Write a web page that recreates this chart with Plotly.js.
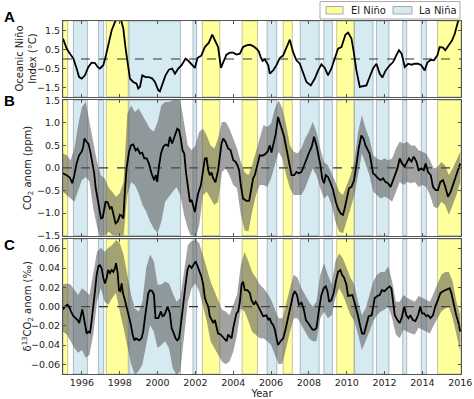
<!DOCTYPE html>
<html>
<head>
<meta charset="utf-8">
<script src="https://cdn.plot.ly/plotly-3.0.1.min.js"></script>
<style>html,body{margin:0;padding:0;background:#fff;}#chart{width:474px;height:399px;}</style>
</head>
<body>
<div id="chart"></div>
<script>
// ENSO periods (decimal year)
const elNinoStart = [1995.0, 1997.29, 2002.37, 2004.47, 2006.64, 2009.47, 2014.80];
const elNinoEnd   = [1995.25, 1998.45, 2003.29, 2005.28, 2007.12, 2010.38, 2016.04];
const laNinaStart = [1995.55, 1996.87, 1998.49, 2001.87, 2005.79, 2007.54, 2008.79, 2010.40, 2011.57, 2012.96, 2013.94];
const laNinaEnd   = [1996.29, 1997.15, 2001.21, 2002.06, 2006.30, 2008.54, 2009.24, 2011.39, 2012.23, 2013.17, 2014.21];
const legendLabels = ['El Niño', 'La Niña'];

// Panel A: Oceanic Nino Index
const oniYear = [1995.0,1995.2,1995.37,1995.55,1995.72,1995.85,1995.99,1996.16,1996.34,1996.51,1996.69,1996.83,1996.95,1997.13,1997.25,1997.39,1997.57,1997.75,1997.9,1998.0,1998.19,1998.31,1998.42,1998.54,1998.71,1998.89,1998.98,1999.07,1999.19,1999.37,1999.54,1999.72,1999.86,2000.04,2000.12,2000.25,2000.42,2000.6,2000.77,2000.92,2001.09,2001.27,2001.48,2001.65,2001.83,2001.97,2002.11,2002.32,2002.5,2002.71,2002.89,2003.03,2003.2,2003.35,2003.47,2003.64,2003.82,2004.0,2004.17,2004.35,2004.52,2004.7,2004.88,2005.05,2005.23,2005.35,2005.45,2005.55,2005.67,2005.85,2005.93,2006.11,2006.28,2006.46,2006.64,2006.81,2006.99,2007.16,2007.34,2007.52,2007.69,2007.87,2008.1,2008.31,2008.49,2008.66,2008.84,2009.01,2009.19,2009.37,2009.54,2009.72,2009.93,2010.07,2010.25,2010.37,2010.51,2010.69,2010.86,2011.04,2011.21,2011.39,2011.57,2011.74,2011.88,2012.06,2012.27,2012.45,2012.62,2012.76,2012.9,2013.07,2013.25,2013.42,2013.6,2013.77,2013.94,2014.12,2014.26,2014.44,2014.61,2014.79,2014.91,2015.09,2015.21,2015.39,2015.57,2015.71,2015.88,2015.97];
const oniValue = [1.07,0.54,0.28,0.02,-0.5,-0.95,-1.03,-0.86,-0.42,-0.19,-0.21,-0.42,-0.5,-0.33,0.1,0.72,1.5,1.95,2.3,2.3,1.6,0.54,-0.33,-1.03,-1.21,-1.3,-1.56,-1.47,-0.86,-0.95,-0.95,-1.03,-1.21,-1.65,-1.7,-1.3,-0.86,-0.56,-0.5,-0.77,-0.5,-0.33,0.02,-0.12,-0.3,-0.47,0.05,0.19,0.63,0.86,1.28,0.98,0.63,-0.47,-0.16,0.23,0.33,0.33,0.23,0.28,0.63,0.72,0.75,0.68,0.54,0.4,0.1,-0.1,-0.02,-0.33,-0.77,-0.6,-0.33,0.05,0.19,0.63,1.02,0.37,-0.07,-0.25,-0.68,-1.21,-1.39,-1.03,-0.6,-0.28,-0.47,-0.86,-0.5,0.1,0.54,0.63,1.28,1.39,1.07,0.37,-0.6,-1.47,-1.42,-1.39,-0.95,-0.5,-0.25,-0.77,-0.98,-0.6,-0.33,-0.16,0.19,0.46,0.28,-0.42,-0.25,-0.3,-0.25,-0.25,-0.33,-0.6,-0.19,-0.04,-0.07,0.19,0.63,0.6,0.46,0.72,0.98,1.33,2.03,2.3];

// Panel B: CO2 anomaly (ppm), mean
const co2Year = [1995.0,1995.19,1995.37,1995.49,1995.6,1995.72,1995.85,1995.99,1996.07,1996.13,1996.25,1996.34,1996.43,1996.55,1996.65,1996.73,1996.83,1996.92,1997.01,1997.1,1997.17,1997.25,1997.36,1997.48,1997.57,1997.66,1997.78,1997.89,1998.01,1998.1,1998.19,1998.27,1998.36,1998.49,1998.59,1998.71,1998.84,1998.94,1999.07,1999.19,1999.3,1999.42,1999.54,1999.68,1999.82,1999.91,1999.98,2000.07,2000.18,2000.3,2000.42,2000.56,2000.65,2000.77,2000.92,2001.04,2001.13,2001.23,2001.32,2001.41,2001.5,2001.62,2001.71,2001.8,2001.88,2001.97,2002.06,2002.15,2002.29,2002.41,2002.5,2002.59,2002.68,2002.76,2002.85,2002.94,2003.06,2003.2,2003.29,2003.38,2003.47,2003.59,2003.73,2003.86,2004.0,2004.12,2004.22,2004.31,2004.4,2004.52,2004.7,2004.84,2004.96,2005.05,2005.14,2005.28,2005.4,2005.53,2005.67,2005.81,2005.93,2006.02,2006.15,2006.25,2006.37,2006.5,2006.59,2006.69,2006.81,2006.94,2007.08,2007.22,2007.34,2007.46,2007.6,2007.75,2007.87,2007.99,2008.15,2008.27,2008.4,2008.52,2008.61,2008.7,2008.8,2008.89,2009.01,2009.15,2009.28,2009.42,2009.54,2009.68,2009.8,2009.89,2009.98,2010.12,2010.25,2010.39,2010.51,2010.63,2010.77,2010.89,2010.99,2011.12,2011.21,2011.3,2011.39,2011.51,2011.65,2011.79,2011.92,2012.04,2012.18,2012.32,2012.45,2012.57,2012.68,2012.8,2012.92,2013.06,2013.19,2013.29,2013.42,2013.54,2013.68,2013.8,2013.94,2014.07,2014.17,2014.3,2014.44,2014.56,2014.7,2014.82,2014.95,2015.09,2015.21,2015.35,2015.49,2015.65,2015.79,2015.92,2016.0];
const co2Value = [-0.12,-0.16,-0.22,-0.34,-0.16,0.1,0.28,0.36,0.47,0.65,0.58,0.54,0.39,0.14,-0.12,-0.45,-0.68,-0.93,-1.12,-1.1,-0.97,-0.75,-0.76,-0.9,-0.86,-1.01,-1.23,-1.19,-1.04,-1.06,-1.12,-0.53,-0.01,0.36,0.5,0.52,0.39,0.43,0.32,0.34,0.21,0.21,0.1,-0.12,-0.27,-0.16,-0.31,0.03,0.32,0.47,0.52,0.49,0.69,0.54,0.72,0.87,0.84,0.65,0.39,0.32,-0.09,-0.53,-0.75,-0.71,-0.86,-0.98,-0.75,-0.56,-0.38,-0.01,0.21,0.22,-0.05,-0.16,-0.1,-0.23,-0.32,-0.05,0.32,0.54,0.65,0.58,0.43,0.39,0.17,0.14,0.06,-0.05,-0.38,-0.68,-0.73,-0.73,-0.45,-0.23,-0.16,0.06,0.28,0.27,0.3,0.36,0.5,0.34,0.58,0.76,1.13,0.95,0.84,0.69,0.43,0.14,-0.16,-0.16,-0.09,-0.12,-0.09,0.06,0.21,0.32,0.47,0.69,0.5,0.25,0.06,-0.23,-0.34,-0.16,-0.2,-0.34,-0.49,-0.75,-0.9,-1.01,-1.04,-0.9,-0.71,-0.45,-0.42,-0.27,0.06,0.43,0.72,0.65,0.5,0.39,0.32,0.1,-0.12,-0.16,-0.23,-0.27,-0.23,-0.31,-0.34,-0.42,-0.27,-0.16,-0.01,0.21,0.1,0.03,0.14,0.21,0.14,0.25,0.14,-0.05,-0.01,-0.05,0.1,-0.09,-0.16,-0.42,-0.49,-0.49,-0.31,-0.27,-0.42,-0.64,-0.53,-0.34,-0.16,0.03,0.1];

// Uncertainty envelopes sampled every 0.2 yr
const bandYear = [1995.0,1995.2,1995.4,1995.6,1995.8,1996.0,1996.2,1996.4,1996.6,1996.8,1997.0,1997.2,1997.4,1997.6,1997.8,1998.0,1998.2,1998.4,1998.6,1998.8,1999.0,1999.2,1999.4,1999.6,1999.8,2000.0,2000.2,2000.4,2000.6,2000.8,2001.0,2001.2,2001.4,2001.6,2001.8,2002.0,2002.2,2002.4,2002.6,2002.8,2003.0,2003.2,2003.4,2003.6,2003.8,2004.0,2004.2,2004.4,2004.6,2004.8,2005.0,2005.2,2005.4,2005.6,2005.8,2006.0,2006.2,2006.4,2006.6,2006.8,2007.0,2007.2,2007.4,2007.6,2007.8,2008.0,2008.2,2008.4,2008.6,2008.8,2009.0,2009.2,2009.4,2009.6,2009.8,2010.0,2010.2,2010.4,2010.6,2010.8,2011.0,2011.2,2011.4,2011.6,2011.8,2012.0,2012.2,2012.4,2012.6,2012.8,2013.0,2013.2,2013.4,2013.6,2013.8,2014.0,2014.2,2014.4,2014.6,2014.8,2015.0,2015.2,2015.4,2015.6,2015.8,2016.0];
const co2Upper = [0.32,0.28,0.17,0.43,0.95,1.35,1.46,1.0,0.5,0.13,-0.16,-0.23,-0.42,-0.53,-0.64,-0.56,-0.31,1.2,1.39,1.24,1.32,1.17,1.02,0.87,0.8,1.02,1.39,1.46,1.46,1.5,1.54,1.5,0.95,0.5,0.39,0.5,0.8,0.87,0.72,0.5,0.43,0.65,1.02,1.02,0.87,0.65,0.43,0.13,-0.09,-0.16,0.06,0.36,0.65,0.95,0.91,0.98,1.32,1.5,1.32,0.95,0.5,0.36,0.32,0.43,0.65,0.8,1.02,0.8,0.43,0.13,0.06,-0.12,-0.31,-0.53,-0.6,-0.38,-0.16,0.13,0.8,1.17,0.87,0.65,0.28,0.21,0.17,0.21,0.17,0.21,0.43,0.58,0.54,0.58,0.5,0.5,0.39,0.36,0.32,0.17,-0.01,0.02,0.13,0.06,-0.16,-0.01,0.17,0.36];
const co2Lower = [-0.53,-0.6,-0.68,-0.75,-0.53,-0.27,-0.2,-0.3,-0.9,-1.3,-1.6,-1.56,-1.41,-1.49,-1.56,-1.56,-1.52,-0.6,-0.31,-0.38,-0.56,-0.82,-0.97,-1.19,-1.34,-1.45,-1.19,-0.75,-0.64,-0.53,-0.42,-0.6,-1.04,-1.34,-1.56,-1.56,-1.27,-0.6,-0.53,-0.68,-0.82,-0.75,-0.09,-0.01,-0.16,-0.38,-0.45,-1.04,-1.38,-1.41,-0.97,-0.6,-0.38,-0.38,-0.42,-0.23,0.06,0.36,0.21,-0.16,-0.45,-0.6,-0.6,-0.6,-0.45,-0.23,-0.01,-0.16,-0.45,-0.68,-0.6,-0.82,-1.19,-1.41,-1.45,-1.19,-0.9,-0.6,-0.16,0.32,0.06,-0.16,-0.53,-0.6,-0.68,-0.64,-0.68,-0.75,-0.53,-0.31,-0.38,-0.31,-0.34,-0.31,-0.42,-0.38,-0.42,-0.6,-0.86,-0.9,-0.75,-0.82,-1.04,-0.82,-0.6,-0.31];

// Panel C: d13C-CO2 anomaly (permil), mean
const d13Year = [1995.0,1995.1,1995.23,1995.32,1995.42,1995.55,1995.67,1995.77,1995.86,1995.95,1996.02,1996.09,1996.16,1996.25,1996.34,1996.43,1996.51,1996.6,1996.69,1996.78,1996.87,1996.95,1997.04,1997.13,1997.22,1997.31,1997.39,1997.48,1997.57,1997.66,1997.75,1997.8,1997.89,1997.96,1998.03,1998.1,1998.17,1998.27,1998.36,1998.49,1998.59,1998.68,1998.77,1998.86,1998.94,1999.03,1999.15,1999.24,1999.33,1999.42,1999.51,1999.6,1999.72,1999.81,1999.89,2000.04,2000.18,2000.26,2000.35,2000.44,2000.53,2000.65,2000.74,2000.86,2000.95,2001.04,2001.13,2001.21,2001.3,2001.39,2001.48,2001.58,2001.67,2001.8,2001.88,2002.01,2002.11,2002.2,2002.32,2002.41,2002.5,2002.59,2002.68,2002.76,2002.85,2002.94,2003.03,2003.12,2003.2,2003.33,2003.43,2003.56,2003.65,2003.73,2003.82,2003.91,2004.0,2004.08,2004.17,2004.26,2004.35,2004.44,2004.52,2004.61,2004.75,2004.88,2004.96,2005.09,2005.18,2005.28,2005.4,2005.49,2005.58,2005.76,2005.85,2005.93,2006.02,2006.11,2006.2,2006.29,2006.37,2006.5,2006.64,2006.76,2006.9,2007.04,2007.16,2007.25,2007.37,2007.47,2007.61,2007.73,2007.84,2007.96,2008.08,2008.19,2008.31,2008.4,2008.52,2008.66,2008.78,2008.89,2008.98,2009.07,2009.19,2009.31,2009.42,2009.54,2009.66,2009.75,2009.86,2009.98,2010.07,2010.2,2010.3,2010.42,2010.51,2010.6,2010.72,2010.81,2010.92,2011.04,2011.16,2011.32,2011.41,2011.48,2011.62,2011.74,2011.86,2012.0,2012.14,2012.27,2012.36,2012.45,2012.54,2012.68,2012.8,2012.9,2013.04,2013.15,2013.27,2013.36,2013.5,2013.63,2013.77,2013.89,2013.98,2014.08,2014.21,2014.3,2014.42,2014.56,2014.68,2014.82,2014.95,2015.09,2015.21,2015.35,2015.44,2015.53,2015.65,2015.79,2015.91,2016.0];
const d13Value = [-0.003,0.0,0.002,0.0,-0.005,-0.01,-0.012,-0.014,-0.017,-0.01,-0.003,-0.01,-0.017,-0.028,-0.026,-0.027,-0.015,-0.002,0.016,0.033,0.042,0.043,0.04,0.03,0.024,0.03,0.038,0.035,0.038,0.036,0.04,0.045,0.035,0.017,0.016,0.024,0.014,0.007,0.0,-0.012,-0.019,-0.029,-0.035,-0.033,-0.034,-0.035,-0.033,-0.026,-0.012,0.004,0.014,0.017,0.016,0.012,-0.012,-0.012,-0.005,-0.01,-0.009,-0.005,0.0,-0.007,-0.022,-0.028,-0.033,-0.035,-0.033,-0.022,-0.005,0.005,0.023,0.038,0.043,0.04,0.043,0.047,0.042,0.038,0.031,0.023,0.009,0.004,0.0,-0.01,-0.014,-0.017,-0.014,-0.021,-0.028,-0.029,-0.031,-0.034,-0.036,-0.029,-0.031,-0.033,-0.022,-0.014,-0.007,-0.005,0.005,0.023,0.026,0.017,0.017,0.014,0.007,0.002,0.005,0.002,-0.003,-0.007,-0.01,-0.009,-0.014,-0.012,-0.017,-0.019,-0.024,-0.033,-0.04,-0.036,-0.033,-0.024,-0.012,0.0,0.012,0.016,0.012,0.002,0.004,-0.003,-0.014,-0.017,-0.021,-0.024,-0.024,-0.022,-0.005,0.012,0.019,0.021,0.016,0.005,0.007,0.014,0.026,0.036,0.038,0.033,0.03,0.023,0.011,0.012,0.012,0.004,-0.002,-0.01,-0.021,-0.028,-0.028,-0.019,-0.01,-0.009,0.0,0.009,0.011,0.012,0.017,0.016,0.019,0.021,0.019,0.005,-0.009,-0.014,-0.017,-0.012,0.0,-0.009,-0.012,-0.009,-0.014,-0.015,-0.009,0.0,-0.007,-0.007,-0.01,-0.009,-0.012,-0.009,0.0,0.007,0.014,0.016,0.017,0.019,0.019,0.014,0.002,-0.009,-0.017,-0.026];
const d13Upper = [0.023,0.024,0.023,0.017,0.012,0.019,0.016,0.012,0.033,0.057,0.061,0.057,0.061,0.064,0.069,0.066,0.054,0.033,0.012,-0.002,-0.005,0.005,0.04,0.054,0.047,0.023,0.023,0.026,0.024,0.014,0.005,0.009,0.036,0.064,0.068,0.069,0.066,0.054,0.04,0.026,0.016,0.005,-0.003,-0.005,-0.009,0.002,0.012,0.043,0.057,0.047,0.036,0.03,0.023,0.019,0.014,0.007,-0.002,-0.012,-0.012,0.005,0.019,0.033,0.03,0.019,0.012,0.005,0.0,0.005,0.033,0.045,0.033,0.023,0.047,0.055,0.05,0.04,0.03,0.023,0.005,-0.009,-0.002,0.012,0.026,0.033,0.036,0.036,0.042,0.026,0.005,0.005,0.012,0.009,0.007,0.005,0.011,0.009,0.007,0.005,0.014,0.024,0.033,0.036,0.036,0.026,0.005,-0.009];
const d13Lower = [-0.026,-0.029,-0.036,-0.043,-0.048,-0.045,-0.053,-0.05,-0.029,0.005,0.019,0.005,0.002,0.009,0.014,-0.005,-0.022,-0.04,-0.06,-0.071,-0.067,-0.06,-0.04,-0.019,-0.026,-0.043,-0.04,-0.036,-0.043,-0.064,-0.071,-0.067,-0.029,0.005,0.019,0.024,0.016,0.002,-0.015,-0.036,-0.043,-0.05,-0.057,-0.06,-0.057,-0.047,-0.029,-0.002,-0.005,-0.015,-0.026,-0.029,-0.033,-0.033,-0.036,-0.04,-0.05,-0.06,-0.059,-0.043,-0.026,-0.012,-0.012,-0.019,-0.026,-0.033,-0.036,-0.036,-0.012,-0.005,-0.012,-0.009,0.009,0.019,0.012,0.002,-0.009,-0.015,-0.029,-0.045,-0.036,-0.026,-0.015,-0.009,-0.005,-0.003,0.0,-0.012,-0.029,-0.033,-0.024,-0.026,-0.028,-0.029,-0.022,-0.024,-0.026,-0.028,-0.019,-0.012,-0.005,-0.002,0.0,-0.012,-0.029,-0.047];

const xTickVals = [1996,1998,2000,2002,2004,2006,2008,2010,2012,2014,2016];

// ---------- build figure ----------
const fillColor = 'rgba(85,85,85,0.55)';
const yellow = '#ffff9c', blue = '#d6eaf2';
function envelope(xa, up, lo, xaxis, yaxis) {
  return {x: xa.concat(xa.slice().reverse()), y: up.concat(lo.slice().reverse()),
    type:'scatter', mode:'lines', fill:'toself', fillcolor: fillColor,
    line:{width:0}, hoverinfo:'skip', showlegend:false, xaxis, yaxis};
}
function meanLine(xa, ya, xaxis, yaxis) {
  return {x: xa, y: ya, type:'scatter', mode:'lines', line:{color:'#000', width:1.8},
    showlegend:false, hoverinfo:'skip', xaxis, yaxis};
}
const traces = [
  meanLine(oniYear, oniValue, 'x', 'y'),
  envelope(bandYear, co2Upper, co2Lower, 'x2', 'y2'),
  meanLine(co2Year, co2Value, 'x2', 'y2'),
  envelope(bandYear, d13Upper, d13Lower, 'x3', 'y3'),
  meanLine(d13Year, d13Value, 'x3', 'y3')
];

const plotTop = 20.5, plotBottom = 374.5, plotH = plotBottom - plotTop;
const plotL = 63, plotW = 398;
const py = v => (plotBottom - v) / plotH;   // pixel row -> paper y
const px = v => (v - plotL) / plotW;        // pixel col -> paper x

const shapes = [];
const panels = [['x','y'],['x2','y2'],['x3','y3']];
panels.forEach(([xa, ya]) => {
  laNinaStart.forEach((s, i) => shapes.push({type:'rect', layer:'below', xref:xa, yref:ya+' domain',
    x0:s, x1:laNinaEnd[i], y0:0, y1:1, fillcolor:blue, line:{color:'rgba(120,140,150,0.55)', width:1}}));
  elNinoStart.forEach((s, i) => shapes.push({type:'rect', layer:'below', xref:xa, yref:ya+' domain',
    x0:s, x1:elNinoEnd[i], y0:0, y1:1, fillcolor:yellow, line:{color:'rgba(150,150,110,0.55)', width:1}}));
  shapes.push({type:'line', layer:'below', xref:xa+' domain', yref:ya, x0:0, x1:1, y0:0, y1:0,
    line:{color:'#333', width:1.2, dash:'dash'}});
});
// legend box (drawn above the plot, like the reference)
shapes.push({type:'rect', xref:'paper', yref:'paper', x0:px(320), x1:px(460), y0:py(18.5), y1:py(1), fillcolor:'#fff', line:{color:'#aaa', width:1}});
shapes.push({type:'rect', xref:'paper', yref:'paper', x0:px(326), x1:px(343), y0:py(13.5), y1:py(6), fillcolor:yellow, line:{color:'#aaa', width:1}});
shapes.push({type:'rect', xref:'paper', yref:'paper', x0:px(393), x1:px(412), y0:py(13.5), y1:py(6), fillcolor:blue, line:{color:'#aaa', width:1}});

const axisCommon = {showline:true, mirror:'ticks', linecolor:'#555', linewidth:1, ticks:'inside', ticklen:3,
  tickcolor:'#555', showgrid:false, zeroline:false, tickfont:{size:9.5, color:'#222'}};
const xRange = [1995, 2016.04];
const lab = (t, xp, yp) => ({text:t, xref:'paper', yref:'paper', x:px(xp), y:py(yp), xanchor:'left', yanchor:'middle',
  showarrow:false, font:{family:'Liberation Sans, Arial', size:15, color:'#000'}});
const ytitle = (t, xp, yp) => ({text:t, xref:'paper', yref:'paper', x:px(xp), y:py(yp), xanchor:'center', yanchor:'middle',
  textangle:-90, showarrow:false, font:{size:10, color:'#222'}});

const layout = {
  width:474, height:399,
  margin:{l:plotL, r:474-plotL-plotW, t:plotTop, b:399-plotBottom, pad:0},
  paper_bgcolor:'#fff', plot_bgcolor:'#fff',
  font:{family:'DejaVu Sans, sans-serif', size:10, color:'#222'},
  showlegend:false,
  xaxis:Object.assign({}, axisCommon, {anchor:'y', range:xRange, tickvals:xTickVals, showticklabels:false}),
  xaxis2:Object.assign({}, axisCommon, {anchor:'y2', matches:'x', range:xRange, tickvals:xTickVals, showticklabels:false}),
  xaxis3:Object.assign({}, axisCommon, {anchor:'y3', matches:'x', range:xRange, tickvals:xTickVals,
    title:{text:'Year', font:{size:10}, standoff:2}}),
  yaxis:Object.assign({}, axisCommon, {domain:[py(96.7), 1], range:[-2, 2], tickvals:[-1.5,-0.5,0.5,1.5], tickformat:'.1f'}),
  yaxis2:Object.assign({}, axisCommon, {domain:[py(235.7), py(100)], range:[-1.5, 1.5], dtick:0.5, tick0:0, tickformat:'.1f'}),
  yaxis3:Object.assign({}, axisCommon, {domain:[0, py(239.3)], range:[-0.07, 0.07], dtick:0.02, tick0:0, tickformat:'.2f'}),
  shapes: shapes,
  annotations:[
    lab('<b>A</b>', 2, 15.5), lab('<b>B</b>', 2, 100), lab('<b>C</b>', 2, 245),
    ytitle('Oceanic Niño<br>Index (°C)', 26.5, 58.7),
    ytitle('CO<sub>2</sub> anom (ppm)', 28, 168),
    ytitle('δ<sup>13</sup>CO<sub>2</sub> anom (‰)', 28, 306.8),
    {text:legendLabels[0], xref:'paper', yref:'paper', x:px(349), y:py(10), xanchor:'left', yanchor:'middle', showarrow:false, font:{size:10, color:'#222'}},
    {text:legendLabels[1], xref:'paper', yref:'paper', x:px(417), y:py(10), xanchor:'left', yanchor:'middle', showarrow:false, font:{size:10, color:'#222'}}
  ]
};

Plotly.newPlot('chart', traces, layout, {displayModeBar:false, staticPlot:true});
</script>
</body>
</html>
